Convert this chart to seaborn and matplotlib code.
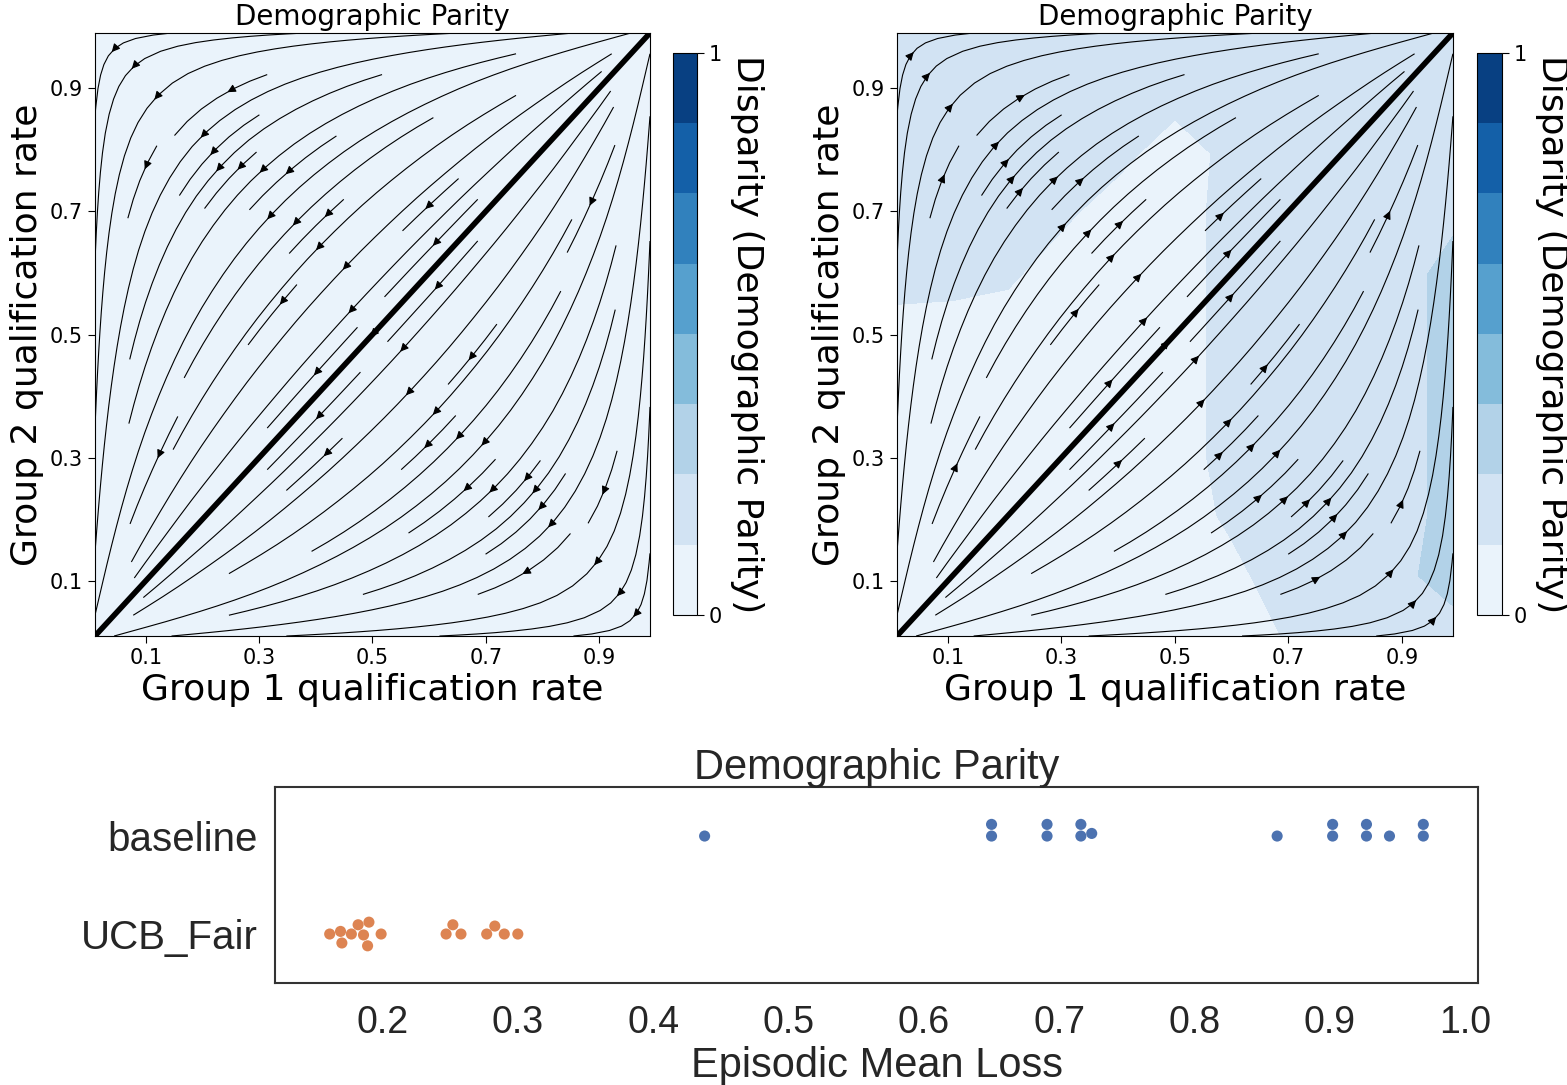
import numpy as np
import pandas as pd
import matplotlib
matplotlib.use("Agg")
import matplotlib.pyplot as plt
import seaborn as sns

# grid of qualification rates shared by both groups
rates = [0.01, 0.108, 0.206, 0.304, 0.402, 0.5, 0.598, 0.696, 0.794, 0.892, 0.99]

# per-step change of a group's qualification rate at each grid rate
drift_baseline = [-0.010, -0.095, -0.164, -0.212, -0.240, -0.250, -0.240, -0.212, -0.164, -0.095, -0.010]
drift_fair = [0.010, 0.095, 0.164, 0.212, 0.240, 0.250, 0.240, 0.212, 0.164, 0.095, 0.010]

# disparity (demographic parity), rows = group 2 rate, cols = group 1 rate
coarse_rates = [0.01, 0.255, 0.5, 0.745, 0.99]
disparity_baseline = [
    [0.03, 0.04, 0.05, 0.06, 0.07],
    [0.04, 0.04, 0.05, 0.06, 0.07],
    [0.05, 0.05, 0.04, 0.05, 0.06],
    [0.06, 0.06, 0.05, 0.04, 0.05],
    [0.07, 0.07, 0.06, 0.05, 0.03],
]
disparity_fair = [
    [0.08, 0.08, 0.08, 0.08, 0.08, 0.08, 0.08, 0.13, 0.17, 0.19, 0.20],
    [0.08, 0.08, 0.08, 0.08, 0.08, 0.08, 0.10, 0.17, 0.18, 0.22, 0.30],
    [0.08, 0.08, 0.08, 0.08, 0.08, 0.08, 0.14, 0.17, 0.18, 0.19, 0.30],
    [0.08, 0.08, 0.08, 0.08, 0.08, 0.08, 0.16, 0.17, 0.18, 0.19, 0.30],
    [0.08, 0.08, 0.08, 0.08, 0.08, 0.08, 0.16, 0.17, 0.18, 0.19, 0.30],
    [0.08, 0.08, 0.08, 0.08, 0.08, 0.08, 0.16, 0.17, 0.18, 0.19, 0.30],
    [0.17, 0.16, 0.14, 0.08, 0.08, 0.08, 0.16, 0.17, 0.18, 0.19, 0.30],
    [0.18, 0.17, 0.17, 0.14, 0.08, 0.08, 0.16, 0.17, 0.18, 0.19, 0.22],
    [0.18, 0.18, 0.17, 0.17, 0.15, 0.08, 0.15, 0.17, 0.18, 0.19, 0.19],
    [0.19, 0.18, 0.18, 0.17, 0.17, 0.16, 0.16, 0.17, 0.18, 0.19, 0.19],
    [0.19, 0.19, 0.18, 0.18, 0.17, 0.17, 0.17, 0.17, 0.18, 0.19, 0.19],
]

# episodic mean loss per seed
loss_baseline = [0.438, 0.650, 0.650, 0.691, 0.691, 0.716, 0.716, 0.724,
                 0.861, 0.902, 0.902, 0.927, 0.927, 0.944, 0.969, 0.969]
loss_fair = [0.161, 0.169, 0.170, 0.177, 0.182, 0.186, 0.189, 0.190,
             0.199, 0.247, 0.252, 0.258, 0.277, 0.283, 0.290, 0.300]
methods = ['baseline', 'UCB_Fair']

title = 'Demographic Parity'
ticks = [0.1, 0.3, 0.5, 0.7, 0.9]
levels = np.linspace(0, 1, 9)

fig = plt.figure(figsize=(15.67, 10.85), dpi=100)


def phase_plot(ax, cax, drift, grid, disparity):
    cf = ax.contourf(grid, grid, np.array(disparity), levels=levels, cmap='Blues')
    U, V = np.meshgrid(drift, drift)
    ax.streamplot(np.array(rates), np.array(rates), U, V, color='k',
                  linewidth=0.8, density=1, arrowsize=1.2)
    ax.plot([0.01, 0.99], [0.01, 0.99], color='k', linewidth=4)
    ax.set_xlim(0.01, 0.99)
    ax.set_ylim(0.01, 0.99)
    ax.set_xticks(ticks)
    ax.set_yticks(ticks)
    ax.tick_params(labelsize=15, length=5)
    ax.set_title(title, fontsize=20)
    ax.set_xlabel('Group 1 qualification rate', fontsize=26)
    ax.set_ylabel('Group 2 qualification rate', fontsize=26)
    cb = fig.colorbar(cf, cax=cax, ticks=[0, 1])
    cb.ax.set_yticklabels(['0', '1'])
    cb.ax.tick_params(labelsize=15, length=5)
    cb.set_label('Disparity (Demographic Parity)', rotation=270, va='bottom',
                 fontsize=26, labelpad=6)


ax1 = fig.add_axes([0.0606, 0.4138, 0.3542, 0.5558])
cax1 = fig.add_axes([0.4295, 0.4332, 0.0153, 0.518])
phase_plot(ax1, cax1, drift_baseline, coarse_rates, disparity_baseline)

ax2 = fig.add_axes([0.5724, 0.4138, 0.3548, 0.5558])
cax2 = fig.add_axes([0.9426, 0.4332, 0.0158, 0.518])
phase_plot(ax2, cax2, drift_fair, rates, disparity_fair)

# swarm of episodic losses
df = pd.DataFrame({
    'loss': loss_baseline + loss_fair,
    'method': [methods[0]] * len(loss_baseline) + [methods[1]] * len(loss_fair),
})

with sns.axes_style('white'):
    ax3 = fig.add_axes([0.1755, 0.094, 0.7677, 0.1806])
sns.swarmplot(data=df, x='loss', y='method', hue='method',
              palette=['#4c72b0', '#dd8452'], size=8, linewidth=0,
              legend=False, ax=ax3)
ax3.set_ylabel('')
ax3.set_xlabel('Episodic Mean Loss', fontsize=30, fontfamily='Liberation Sans')
ax3.set_title(title, fontsize=30, fontfamily='Liberation Sans')
ax3.tick_params(axis='x', labelsize=27, labelfontfamily='Liberation Sans', pad=12)
ax3.tick_params(axis='y', labelsize=29, labelfontfamily='Liberation Sans', pad=9)
for s in ax3.spines.values():
    s.set_color('#333333')
    s.set_linewidth(1.5)

# let seaborn lay out the swarm, then flip it so stacked points sit above the row
fig.canvas.draw()
for coll in ax3.collections:
    off = np.array(coll.get_offsets())
    center = np.round(off[:, 1])
    off[:, 1] = 2 * center - off[:, 1]
    coll.set_offsets(off)
    if 'draw' in coll.__dict__:
        del coll.draw

fig.savefig('out.png', dpi=100)
